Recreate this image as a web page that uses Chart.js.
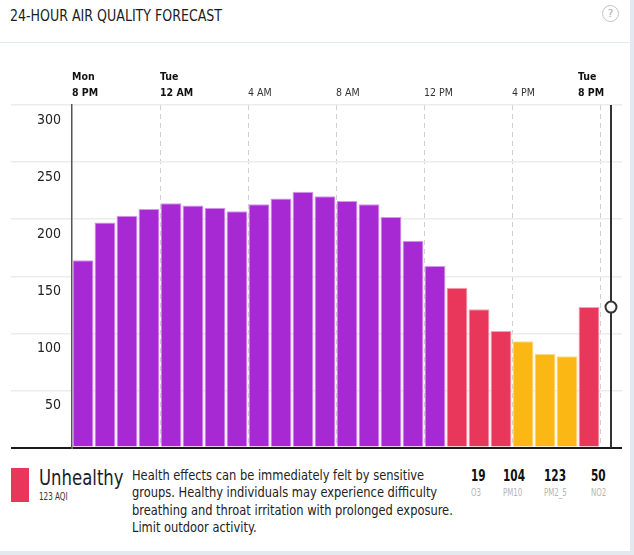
<!DOCTYPE html>
<html><head><meta charset="utf-8">
<script src="https://cdn.jsdelivr.net/npm/chart.js@4.4.1/dist/chart.umd.min.js"></script>
<style>
html,body{margin:0;padding:0;background:#fff;}
body{width:634px;height:555px;position:relative;overflow:hidden;font-family:'DejaVu Sans Condensed','Roboto',sans-serif;color:#222;}
#rborder{position:absolute;left:630px;top:0;width:4px;height:555px;background:#e3e9f1;}
#bborder{position:absolute;left:0;top:551px;width:634px;height:4px;background:#e3e9f1;}
.sx{transform-origin:0 0;}
#title{position:absolute;left:10px;top:5px;font-size:16px;line-height:22px;white-space:nowrap;color:#1c1c1c;transform:scaleX(0.876);}
#sep{position:absolute;left:0;top:42px;width:630px;height:1px;background:#e4e8ef;}
#help{position:absolute;left:602px;top:5px;width:15px;height:15px;border:1px solid #c4c4c4;border-radius:50%;font-size:11px;line-height:15px;text-align:center;color:#aaa;font-family:'DejaVu Sans',sans-serif;}
#wrap{position:absolute;left:0;top:50px;width:634px;height:405px;}
#swatch{position:absolute;left:11px;top:468px;width:18px;height:34px;}
#level{position:absolute;left:39px;top:465px;font-size:21px;line-height:26px;white-space:nowrap;color:#1c1c2a;transform:scaleX(0.874);}
#aqi{position:absolute;left:39px;top:491px;font-size:10px;line-height:12px;white-space:nowrap;color:#333;transform:scaleX(0.8);}
#desc{position:absolute;left:132px;top:467px;width:362px;font-size:14px;line-height:17.4px;color:#222;transform:scaleX(0.91);}
.pol{position:absolute;top:467px;white-space:nowrap;transform:scaleX(0.78);}
.pol .v{font-size:15px;font-weight:bold;line-height:19px;color:#111;}
.pol .n{font-size:10px;line-height:12px;color:#b5b5b5;margin-top:1px;}
</style></head>
<body>
<div id="rborder"></div><div id="bborder"></div>
<div id="title" class="sx">24-HOUR AIR QUALITY FORECAST</div>
<div id="help">?</div>
<div id="sep"></div>
<div id="wrap"><canvas id="c"></canvas></div>
<div id="swatch"></div>
<div id="level" class="sx"></div>
<div id="aqi" class="sx"></div>
<div id="desc" class="sx"></div>
<div id="pols"></div>
<script>
// ---- data ----
const hourLabels = ['Mon 8 PM','Mon 9 PM','Mon 10 PM','Mon 11 PM','Tue 12 AM','Tue 1 AM','Tue 2 AM','Tue 3 AM',
  'Tue 4 AM','Tue 5 AM','Tue 6 AM','Tue 7 AM','Tue 8 AM','Tue 9 AM','Tue 10 AM','Tue 11 AM',
  'Tue 12 PM','Tue 1 PM','Tue 2 PM','Tue 3 PM','Tue 4 PM','Tue 5 PM','Tue 6 PM','Tue 7 PM','Tue 8 PM'];
const aqiValues = [164,197,203,209,214,212,210,207,213,218,224,220,216,213,202,181,159,140,121,102,93,82,80,123];
const aqiLevels = ['VU','VU','VU','VU','VU','VU','VU','VU','VU','VU','VU','VU','VU','VU','VU','VU','VU',
  'U','U','U','USG','USG','USG','U'];
const axisTickSlots = [0,4,8,12,16,20,23];
const axisTickLabels = [['Mon','8 PM'],['Tue','12 AM'],'4 AM','8 AM','12 PM','4 PM',['Tue','8 PM']];
const yTicks = [0,50,100,150,200,250,300];
const currentSlot = 24;
const currentAqi = 123;
const currentLevel = 'Unhealthy';
const currentDesc = 'Health effects can be immediately felt by sensitive groups. Healthy individuals may experience difficulty breathing and throat irritation with prolonged exposure. Limit outdoor activity.';
const pollutantValues = [19,104,123,50];
const pollutantNames = ['O3','PM10','PM2_5','NO2'];

// ---- styles ----
const fillColors = {VU:'#a729d3', U:'#e9375c', USG:'#fbb714'};
const edgeColors = {VU:'#d39aea', U:'#f6a2b4', USG:'#fdda88'};
const polX = [471,503,544,591];

Chart.defaults.font.family = "'DejaVu Sans Condensed','Roboto',sans-serif";

const topLabels = [];
for (let i = 0; i <= hourLabels.length; i++) topLabels.push('');
axisTickSlots.forEach((s, k) => { topLabels[s] = axisTickLabels[k]; });

const currentPoint = hourLabels.map((_, i) => i === currentSlot ? currentAqi : null);

const sliderLine = {
  id: 'sliderLine',
  beforeDatasetsDraw(chart) {
    const {ctx, chartArea, scales} = chart;
    const x = scales.x.getPixelForValue(currentSlot);
    ctx.save();
    ctx.strokeStyle = '#333';
    ctx.lineWidth = 2;
    ctx.beginPath();
    ctx.moveTo(x, chartArea.top);
    ctx.lineTo(x, chartArea.bottom);
    ctx.stroke();
    ctx.restore();
  }
};

new Chart(document.getElementById('c'), {
  data: {
    labels: hourLabels,
    datasets: [
      { type: 'line', data: currentPoint, showLine: false, pointRadius: 5.5, pointHoverRadius: 5.5,
        pointBackgroundColor: '#fff', pointBorderColor: '#333', pointBorderWidth: 2, order: 0 },
      { type: 'bar', data: aqiValues,
        backgroundColor: aqiLevels.map(l => fillColors[l]),
        borderColor: aqiLevels.map(l => edgeColors[l]),
        borderWidth: 1, borderSkipped: 'bottom',
        barPercentage: 0.95, categoryPercentage: 1, order: 1 }
    ]
  },
  options: {
    responsive: true, maintainAspectRatio: false, animation: false,
    layout: { padding: { left: 11, right: 12, top: 0, bottom: 5 } },
    plugins: { legend: { display: false }, tooltip: { enabled: false } },
    scales: {
      x: {
        type: 'category', offset: true,
        grid: { offset: true, drawTicks: false, lineWidth: 1,
          color: c => (c.index > 0 && c.index % 4 === 0) ? '#d0d0d0' : 'rgba(0,0,0,0)' },
        border: { display: false, dash: [5, 4] },
        ticks: { display: false },
        afterFit: s => { s.height = 0; s.paddingLeft = 0; s.paddingRight = 0; }
      },
      xTop: {
        type: 'category', position: 'top', labels: topLabels, offset: false,
        grid: { display: false, drawTicks: false }, border: { display: false },
        ticks: { autoSkip: false, maxRotation: 0, minRotation: 0, align: 'start', padding: 4,
          color: c => Array.isArray(c.tick.label) ? '#111' : '#333',
          font: c => ({ size: 10.5, lineHeight: 1.5, weight: Array.isArray(c.tick.label) ? 'bold' : 'normal' }) },
        afterFit: s => { s.height = 55; s.paddingLeft = 0; s.paddingRight = 0; }
      },
      y: {
        min: 0, max: 300, position: 'left',
        afterBuildTicks: s => { s.ticks = yTicks.map(v => ({ value: v })); },
        ticks: { labelOffset: 15, padding: -50, color: '#222', font: { size: 14 },
          callback: v => v === 0 ? '' : String(v) },
        grid: { tickLength: 61,
          color: c => c.tick && c.tick.value === 0 ? '#1a1a1a' : '#ececec',
          lineWidth: c => c.tick && c.tick.value === 0 ? 2 : 1.5 },
        border: { display: true, color: '#555', width: 1.5 },
        afterFit: s => { s.width = 61; s.paddingTop = 0; s.paddingBottom = 0; }
      }
    }
  },
  plugins: [sliderLine]
});

document.getElementById('swatch').style.background = fillColors[aqiLevels[aqiLevels.length - 1]];
document.getElementById('level').textContent = currentLevel;
document.getElementById('aqi').textContent = currentAqi + ' AQI';
document.getElementById('desc').textContent = currentDesc;
const pols = document.getElementById('pols');
pollutantValues.forEach((v, i) => {
  const d = document.createElement('div');
  d.className = 'pol sx';
  d.style.left = polX[i] + 'px';
  d.innerHTML = '<div class="v">' + v + '</div><div class="n">' + pollutantNames[i] + '</div>';
  pols.appendChild(d);
});
</script>
</body></html>
